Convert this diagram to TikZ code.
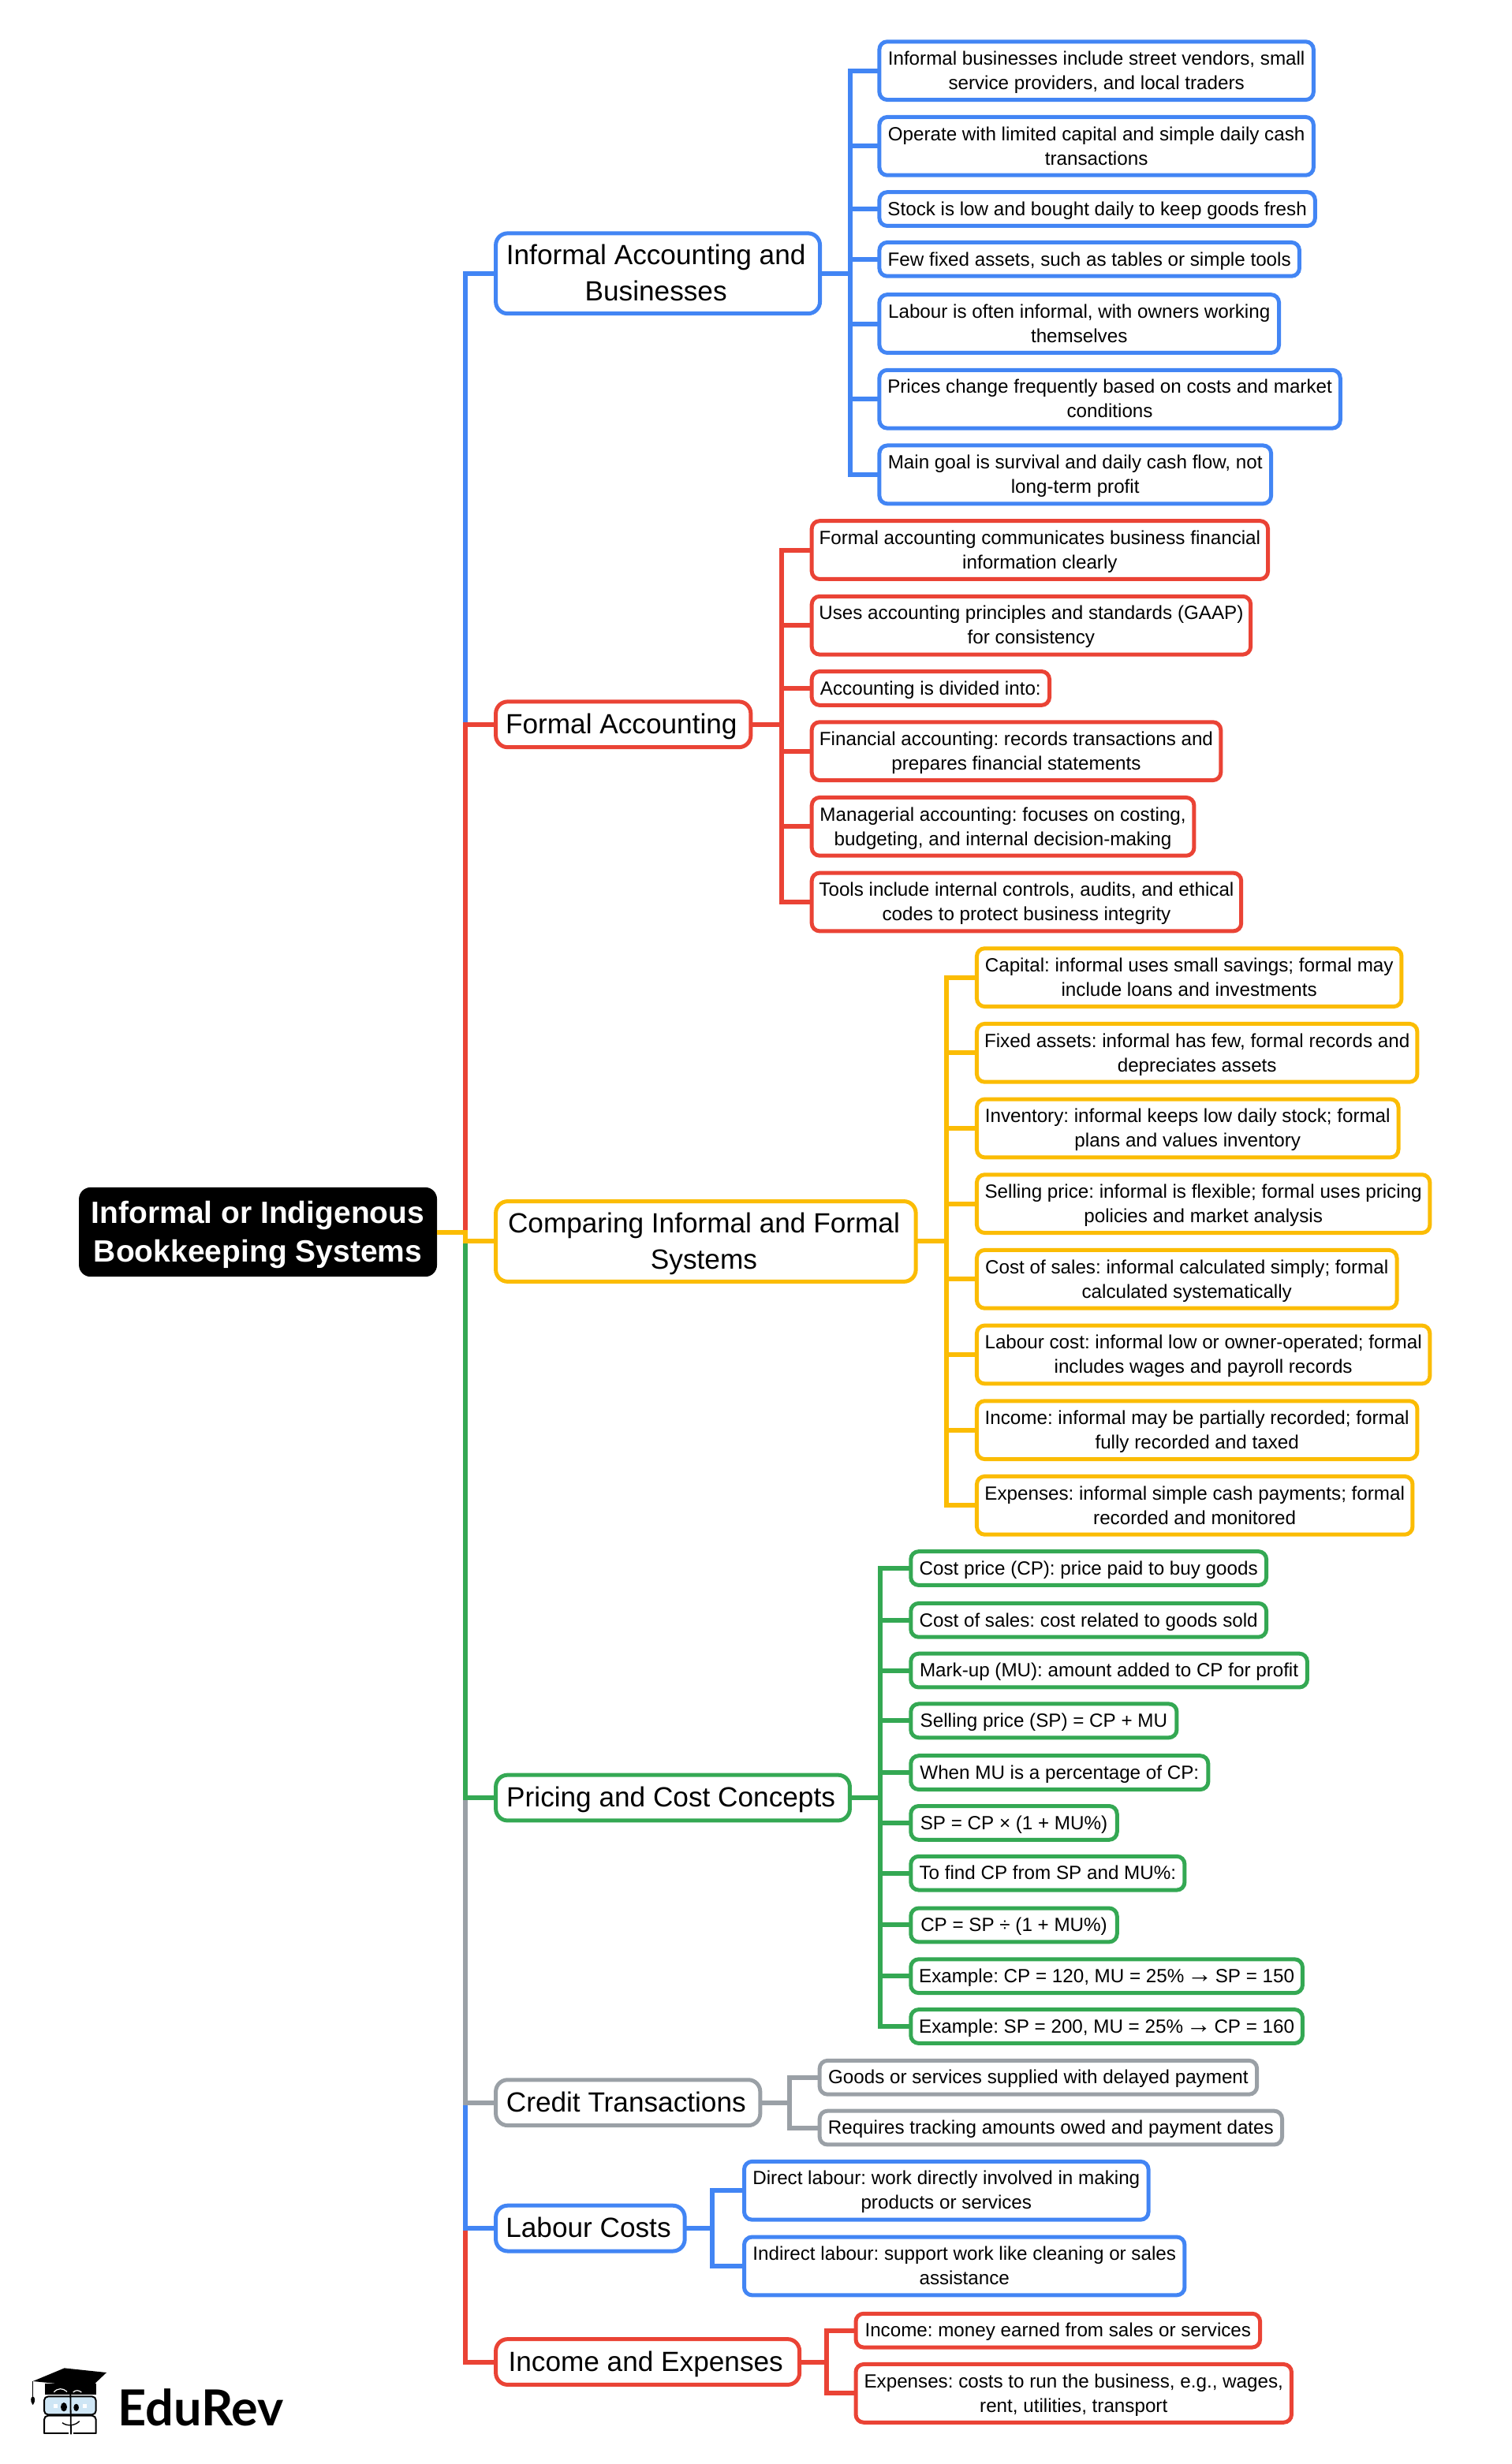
\documentclass[tikz,border=0pt]{standalone}
\usepackage{fontspec}
\setmainfont{Liberation Sans}
\newfontfamily\logofont{Lato}
\frenchspacing
\definecolor{gblue}{HTML}{4285F4}
\definecolor{gred}{HTML}{EA4335}
\definecolor{gyellow}{HTML}{FBBC04}
\definecolor{ggreen}{HTML}{34A853}
\definecolor{ggray}{HTML}{9AA0A6}
\definecolor{lens}{HTML}{CFE6F5}
\tikzset{
  conn/.style={line width=3pt,line join=miter},
  leafbox/.style={draw,fill=white,line width=2.5pt,rounded corners=5pt,inner sep=0pt,outer sep=0pt,align=center,text=black,font=\fontsize{12.1}{15.5}\selectfont},
  branchbox/.style={draw,fill=white,line width=2.5pt,rounded corners=7.5pt,inner sep=0pt,outer sep=0pt,align=center,text=black,font=\fontsize{17.6}{23}\selectfont},
  rootbox/.style={fill=black,rounded corners=7.5pt,inner sep=0pt,outer sep=0pt,align=center,text=white,font=\fontsize{19.5}{24.7}\bfseries\selectfont},
}
\newcommand{\rarr}{\kern-1.5pt{\fontsize{16}{16}\selectfont →}\kern-1.5pt}
\newcommand{\bx}{\hspace*{2.4pt}}
% name, x1, x2, centre y, height, colour, junction, text
\newcommand{\leafnode}[8]{%
  \node[leafbox,draw=#6,minimum width={((#3-#2)*0.9965-0.8)*1pt},minimum height={(#5+0.6)*1pt}] (#1) at ({(#2+#3)/2},#4) {\rule{0pt}{11.2pt}#8\rule[-3pt]{0pt}{3pt}};
  \draw[conn,draw=#6] (#7) |- (#1.west);
}
% name, x1, x2, centre y, height, colour, text
\newcommand{\branchnode}[7]{%
  \node[branchbox,draw=#6,minimum width={((#3-#2)*0.9965-0.8)*1pt},minimum height={(#5+0.6)*1pt}] (#1) at ({(#2+#3)/2},#4) {\rule{0pt}{16.4pt}#7\rule[-4.6pt]{0pt}{4.6pt}};
}
\begin{document}
\begin{tikzpicture}[x=0.9965pt,y=-0.9965pt]
\useasboundingbox (0pt,0pt) rectangle (958pt,-1562.5pt);
\fill[white] (0pt,0pt) rectangle (958pt,-1562.5pt);

\node[rootbox,minimum width=227pt,minimum height=56.7pt] (root) at (164.1,784) {\rule{0pt}{17.4pt}Informal or Indigenous\\Bookkeeping Systems\rule[-4pt]{0pt}{4pt}};
\coordinate (trunk) at (296,784);

% branches
\branchnode{b1}{315}{522}{174}{50.3}{gblue}{Informal Accounting and\bx\\Businesses\bx}
\branchnode{b2}{315}{478}{461}{28.3}{gred}{Formal Accounting\bx}
\branchnode{b3}{315}{583}{790}{50.3}{gyellow}{Comparing Informal and Formal\bx\\Systems\bx}
\branchnode{b4}{315}{541}{1144}{28.3}{ggreen}{Pricing and Cost Concepts\bx}
\branchnode{b5}{315}{484}{1338}{28.3}{ggray}{Credit Transactions\bx}
\branchnode{b6}{315}{436}{1418}{28.3}{gblue}{Labour Costs\bx}
\branchnode{b7}{315}{509}{1503}{28.3}{gred}{Income and Expenses\bx}

% trunk connectors, upper branches
\draw[conn,draw=gblue] (trunk) |- (b1.west);
\draw[conn,draw=gred] (trunk) |- (b2.west);
% lower branches
\draw[conn,draw=gred] (trunk) |- (b7.west);
\draw[conn,draw=gblue] (trunk) |- (b6.west);
\draw[conn,draw=ggray] (trunk) |- (b5.west);
\draw[conn,draw=ggreen] (trunk) |- (b4.west);
\draw[conn,draw=gyellow] (root.east |- trunk) -- (trunk) |- (b3.west);

% junctions
\coordinate (j1) at (541,174);
\coordinate (j2) at (497,461);
\coordinate (j3) at (602,790);
\coordinate (j4) at (560,1144);
\coordinate (j5) at (502,1338);
\coordinate (j6) at (453,1418);
\coordinate (j7) at (526,1503);
\draw[conn,draw=gblue] (b1.east) -- (j1);
\draw[conn,draw=gred] (b2.east) -- (j2);
\draw[conn,draw=gyellow] (b3.east) -- (j3);
\draw[conn,draw=ggreen] (b4.east) -- (j4);
\draw[conn,draw=ggray] (b5.east) -- (j5);
\draw[conn,draw=gblue] (b6.east) -- (j6);
\draw[conn,draw=gred] (b7.east) -- (j7);

% leaves: blue
\leafnode{a1}{559}{836}{45}{36.3}{gblue}{j1}{Informal businesses include street vendors, small\\service providers, and local traders}
\leafnode{a2}{559}{836}{93}{36.3}{gblue}{j1}{Operate with limited capital and simple daily cash\\transactions}
\leafnode{a3}{559}{837}{133}{20.8}{gblue}{j1}{Stock is low and bought daily to keep goods fresh}
\leafnode{a4}{559}{827}{165}{20.8}{gblue}{j1}{Few fixed assets, such as tables or simple tools}
\leafnode{a5}{559}{814}{206}{36.3}{gblue}{j1}{Labour is often informal, with owners working\\themselves}
\leafnode{a6}{559}{853}{254}{36.3}{gblue}{j1}{Prices change frequently based on costs and market\\conditions}
\leafnode{a7}{559}{809}{302}{36.3}{gblue}{j1}{Main goal is survival and daily cash flow, not\\long-term profit}
% leaves: red
\leafnode{c1}{516}{807}{350}{36.3}{gred}{j2}{Formal accounting communicates business financial\\information clearly}
\leafnode{c2}{516}{796}{398}{36.3}{gred}{j2}{Uses accounting principles and standards (GAAP)\\for consistency}
\leafnode{c3}{516}{668}{438}{20.8}{gred}{j2}{Accounting is divided into:}
\leafnode{c4}{516}{777}{478}{36.3}{gred}{j2}{Financial accounting: records transactions and\\prepares financial statements}
\leafnode{c5}{516}{760}{526}{36.3}{gred}{j2}{Managerial accounting: focuses on costing,\\budgeting, and internal decision-making}
\leafnode{c6}{516}{790}{574}{36.3}{gred}{j2}{Tools include internal controls, audits, and ethical\\codes to protect business integrity}
% leaves: yellow
\leafnode{d1}{621}{892}{622}{36.3}{gyellow}{j3}{Capital: informal uses small savings; formal may\\include loans and investments}
\leafnode{d2}{621}{902}{670}{36.3}{gyellow}{j3}{Fixed assets: informal has few, formal records and\\depreciates assets}
\leafnode{d3}{621}{890}{718}{36.3}{gyellow}{j3}{Inventory: informal keeps low daily stock; formal\\plans and values inventory}
\leafnode{d4}{621}{910}{766}{36.3}{gyellow}{j3}{Selling price: informal is flexible; formal uses pricing\\policies and market analysis}
\leafnode{d5}{621}{889}{814}{36.3}{gyellow}{j3}{Cost of sales: informal calculated simply; formal\\calculated systematically}
\leafnode{d6}{621}{910}{862}{36.3}{gyellow}{j3}{Labour cost: informal low or owner-operated; formal\\includes wages and payroll records}
\leafnode{d7}{621}{902}{910}{36.3}{gyellow}{j3}{Income: informal may be partially recorded; formal\\fully recorded and taxed}
\leafnode{d8}{621}{899}{958}{36.3}{gyellow}{j3}{Expenses: informal simple cash payments; formal\\recorded and monitored}
% leaves: green
\leafnode{e1}{579}{806}{998}{20.8}{ggreen}{j4}{Cost price (CP): price paid to buy goods}
\leafnode{e2}{579}{806}{1031}{20.8}{ggreen}{j4}{Cost of sales: cost related to goods sold}
\leafnode{e3}{579}{832}{1063}{20.8}{ggreen}{j4}{Mark-up (MU): amount added to CP for profit}
\leafnode{e4}{579}{749}{1095}{20.8}{ggreen}{j4}{Selling price (SP) = CP + MU}
\leafnode{e5}{579}{769}{1128}{20.8}{ggreen}{j4}{When MU is a percentage of CP:}
\leafnode{e6}{579}{711}{1160}{20.8}{ggreen}{j4}{SP = CP × (1 + MU\%)}
\leafnode{e7}{579}{754}{1192}{20.8}{ggreen}{j4}{To find CP from SP and MU\%:}
\leafnode{e8}{579}{711}{1225}{20.8}{ggreen}{j4}{CP = SP ÷ (1 + MU\%)}
\leafnode{e9}{579}{829}{1257.5}{20.8}{ggreen}{j4}{Example: CP = 120, MU = 25\% \rarr{} SP = 150}
\leafnode{e10}{579}{829}{1289.5}{20.8}{ggreen}{j4}{Example: SP = 200, MU = 25\% \rarr{} CP = 160}
% leaves: gray
\leafnode{f1}{521}{800}{1322}{20.8}{ggray}{j5}{Goods or services supplied with delayed payment}
\leafnode{f2}{521}{816}{1354}{20.8}{ggray}{j5}{Requires tracking amounts owed and payment dates}
% leaves: labour
\leafnode{g1}{473}{731}{1394}{36.3}{gblue}{j6}{Direct labour: work directly involved in making\\products or services}
\leafnode{g2}{473}{754}{1442}{36.3}{gblue}{j6}{Indirect labour: support work like cleaning or sales\\assistance}
% leaves: income
\leafnode{h1}{544}{802}{1483}{20.8}{gred}{j7}{Income: money earned from sales or services}
\leafnode{h2}{544}{822}{1523}{36.3}{gred}{j7}{Expenses: costs to run the business, e.g., wages,\\rent, utilities, transport}

% logo
\node[anchor=base west,inner sep=0pt,font=\logofont\fontsize{31.5}{32}\bfseries\selectfont] (brand) at (74.6pt,-1538pt) {EduRev};
\begin{scope}[shift={(0pt,-1450pt)},x=0.16667pt,y=-0.16667pt]
  \fill[black] (172,370) rectangle (365,412);
  \fill[black] (125,360) -- (245,310) -- (405,327) -- (330,398) -- (245,372) -- cycle;
  \draw[black,line width=0.5pt] (125,360) -- (125,425);
  \fill[black] (125,450) .. controls (112,432) and (118,420) .. (125,418) .. controls (132,420) and (138,432) .. (125,450) -- cycle;
  \draw[white,line width=0.6pt] (205,402) .. controls (218,385) and (240,385) .. (255,400);
  \draw[white,line width=0.6pt] (278,402) .. controls (288,392) and (300,394) .. (310,402);
  \draw[black,fill=lens,line width=1pt,rounded corners=2.5pt] (168,418) rectangle (365,487);
  \fill[black] (243,458) ellipse [x radius=12,y radius=17];
  \fill[black] (290,460) ellipse [x radius=10,y radius=14];
  \fill[white] (205,448) rectangle (219,462);
  \fill[white] (315,448) rectangle (329,462);
  \draw[black,line width=1pt,rounded corners=2.5pt] (168,560) -- (168,491) -- (365,491) -- (365,560);
  \draw[black,line width=1pt] (168,558) -- (262,558);
  \draw[black,line width=1pt] (278,558) -- (365,558);
  \draw[black,line width=0.9pt] (268,410) -- (270,562);
  \draw[black,line width=0.7pt] (237,518) .. controls (255,532) and (285,530) .. (302,512);
\end{scope}
\end{tikzpicture}
\end{document}
